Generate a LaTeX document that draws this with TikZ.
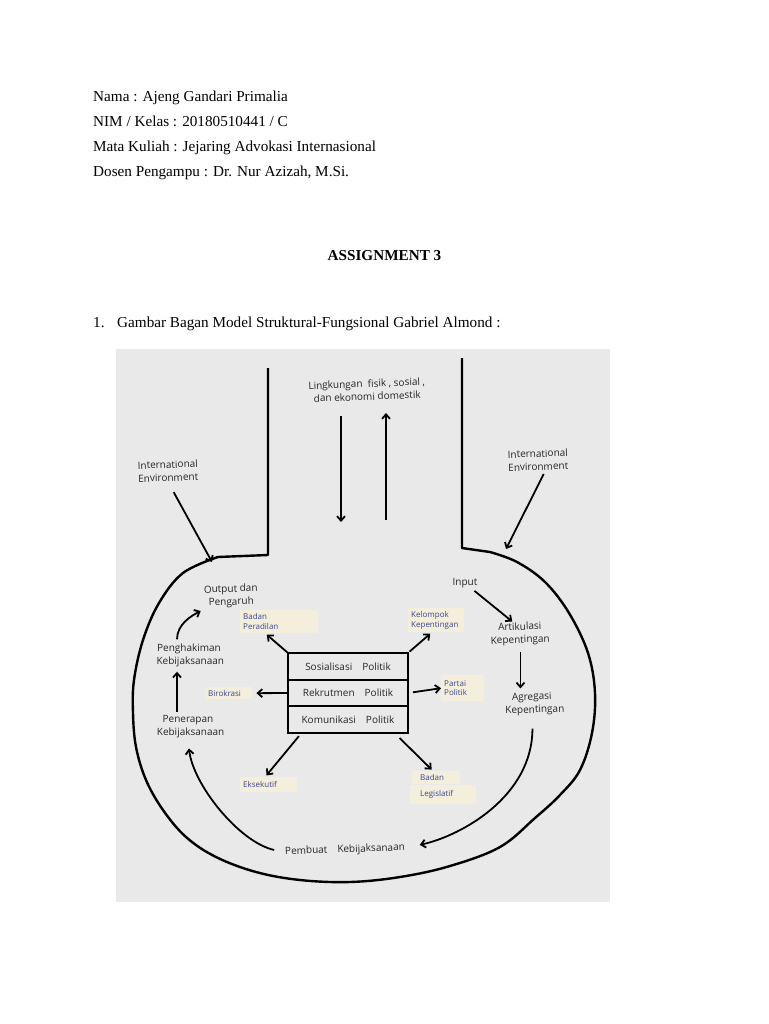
\documentclass[tikz,border=0pt]{standalone}
\usepackage{fontspec}
\setmainfont{Liberation Serif}
\newfontfamily\handfont{Open Sans}
\usetikzlibrary{arrows.meta, positioning, calc}
\definecolor{paper}{RGB}{234,233,233}
\definecolor{tape}{RGB}{244,239,220}
\definecolor{blueink}{RGB}{58,68,148}
\tikzset{
	hdr/.style={anchor=base west, inner sep=0pt, font=\fontsize{15.2}{18}\selectfont},
	hand/.style={align=center, inner sep=1pt, text=black!85, font=\handfont\fontsize{10}{13}\selectfont},
	tapelbl/.style={rectangle, fill=tape, anchor=north west, align=left, inner xsep=3pt, inner ysep=1pt, text=blueink, font=\handfont\fontsize{8}{9.5}\selectfont},
	rowbox/.style={rectangle, draw=black, line width=2.2pt, minimum width=120pt, minimum height=26.7pt, inner sep=0pt, outer sep=0pt, text=black!85, font=\handfont\fontsize{10}{12}\selectfont},
	wall/.style={draw=black, line width=2.4pt, line join=round},
	pen/.style={-{Straight Barb[length=4.5pt, width=8pt]}, line width=1.8pt, draw=black},
}
\begin{document}
\begin{tikzpicture}[x=1pt, y=-1pt]
	\useasboundingbox (0,0) rectangle (768,1024);
	% header of the page
	\node[hdr] (nama) at (93,102) {Nama : Ajeng Gandari Primalia};
	\node[hdr] (nim) at (93,127) {NIM / Kelas : 20180510441 / C};
	\node[hdr] (matkul) at (93,152) {Mata Kuliah : Jejaring Advokasi Internasional};
	\node[hdr] (dosen) at (93,176.5) {Dosen Pengampu : Dr. Nur Azizah, M.Si.};
	\node[hdr, anchor=base, font=\bfseries\fontsize{15.2}{18}\selectfont] (judul) at (384.5,260) {ASSIGNMENT 3};
	\node[hdr] (nomor) at (93,327) {1.};
	\node[hdr] (soal) at (117,327) {Gambar Bagan Model Struktural-Fungsional Gabriel Almond :};

	% photo of the drawing
	\fill[paper] (116,349) rectangle (610,902);
	\draw[wall] (268,368) -- (268,555) -- plot[smooth, tension=0.6] coordinates {(218,557) (183,573) (159,603) (143,640) (134,680) (133,713) (136,747) (146,780) (163,810) (186,837) (216,857) (256,872) (300,880) (350,882) (400,877) (450,866) (500,847) (535,818) (560,795) (580,770) (592,733) (595,693) (588,653) (569,613) (545,582) (517,562) (490,552)} -- (462,548) -- (462,358);

	% environment
	\node[hand, rotate=2] (ling) at (367,390) {Lingkungan\ \ fisik , sosial ,\\dan ekonomi domestik};
	\coordinate (masuk1) at (341,416);
	\coordinate (masuk2) at (341,522);
	\coordinate (keluar1) at (386,520);
	\coordinate (keluar2) at (386,413);
	\draw[pen] (masuk1) -- (masuk2);
	\draw[pen] (keluar1) -- (keluar2);
	\node[hand, rotate=2] (intlL) at (168,471) {International\\Environment};
	\node[hand, rotate=2] (intlR) at (538,460) {International\\Environment};
	\coordinate (sudutL) at (212,562);
	\coordinate (sudutR) at (506,549);
	\draw[pen, shorten <=11pt] (intlL.south) -- (sudutL);
	\draw[pen, shorten <=3pt] (intlR.-60) -- (sudutR);

	% conversion cycle
	\node[hand] (input) at (465,583) {Input};
	\node[hand, rotate=2] (artik) at (520,634) {Artikulasi\\Kepentingan};
	\node[hand, rotate=2] (agreg) at (532,704) {Agregasi\\\ \ Kepentingan};
	\node[hand, rotate=2] (pembuat) at (345,850) {Pembuat\quad Kebijaksanaan};
	\node[hand] (penerapan) at (188,727) {Penerapan\\\ \ Kebijaksanaan};
	\node[hand] (penghakiman) at (189,655) {Penghakiman\\\ Kebijaksanaan};
	\node[hand, rotate=2] (output) at (231,596) {Output dan\\Pengaruh};
	\draw[pen, shorten <=3pt] (input.-40) -- (artik.120);
	\draw[pen, shorten <=5pt, shorten >=3pt] (artik.south) -- (artik.south |- agreg.north);
	\draw[pen, shorten <=12pt, shorten >=14pt] (agreg.south) .. controls +(0,80) and +(55,-12) .. (pembuat.east);
	\draw[pen, shorten <=10pt, shorten >=9pt] (pembuat.west) .. controls +(-45,-10) and +(5,45) .. (penerapan.south);
	\draw[pen, shorten <=3pt, shorten >=4pt] ([xshift=-11pt]penerapan.north) -- ([xshift=-11pt]penerapan.north |- penghakiman.south);
	\draw[pen, shorten <=3pt, shorten >=3pt] ([xshift=-12pt]penghakiman.north) .. controls +(0,-18) and +(-12,6) .. (output.south west);

	% capabilities
	\node[rowbox] (sos) at (348,666.3) {Sosialisasi\quad Politik};
	\node[rowbox, below=0pt of sos] (rek) {Rekrutmen\quad Politik};
	\node[rowbox, below=0pt of rek] (kom) {Komunikasi\quad Politik};

	% structures on tape
	\node[tapelbl, text width=72pt, minimum height=23pt] (peradilan) at (240,610) {Badan\\Peradilan};
	\node[tapelbl, text width=50pt, minimum height=24pt] (kelompok) at (408,608) {Kelompok\\Kepentingan};
	\node[tapelbl, text width=41pt, minimum height=12pt] (birokrasi) at (205,687) {Birokrasi};
	\node[tapelbl, text width=37pt, minimum height=26pt] (partai) at (441,675) {Partai\\Politik};
	\node[tapelbl, text width=51pt, minimum height=15pt] (eksekutif) at (240,777) {Eksekutif};
	\node[tapelbl, text width=42pt, minimum height=13pt] (badanleg) at (412,771) {\hspace*{5pt}Badan};
	\node[tapelbl, text width=60pt, minimum height=19pt, below=0pt of badanleg.south west, anchor=north west, xshift=-2pt] (legislatif) {\hspace*{7pt}Legislatif};
	\draw[pen, shorten >=2pt] (sos.north west) -- (peradilan.-140);
	\draw[pen, shorten <=2pt, shorten >=2pt] (sos.north east) -- (kelompok.-110);
	\draw[pen, shorten <=1pt, shorten >=4pt] (rek.west) -- (birokrasi.east);
	\draw[pen, shorten <=5pt] (rek.east) -- (partai.west);
	\draw[pen, shorten <=4pt, shorten >=2pt] (kom.-164) -- (eksekutif.115);
	\draw[pen, shorten <=7pt, shorten >=2pt] (kom.-16) -- (badanleg.115);
\end{tikzpicture}
\end{document}
